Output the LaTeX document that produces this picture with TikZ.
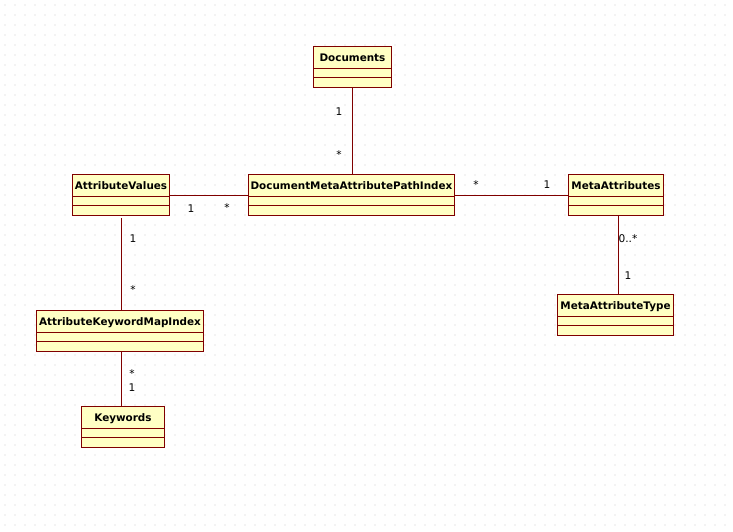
\documentclass[tikz,border=0pt]{standalone}
\usepackage{fontspec}
\setmainfont{DejaVu Sans}
\definecolor{kiiro}{HTML}{FFFFC4}
\definecolor{enji}{HTML}{800000}
\definecolor{tenten}{HTML}{CDCDCD}

\tikzset{
    umlclass/.style={draw=enji, fill=kiiro, line width=1pt, rectangle, anchor=north west,
        inner xsep=0pt, inner ysep=0pt, text height=15pt, text depth=26pt,
        font=\fontsize{10.4}{12}\selectfont\bfseries},
    assoc/.style={draw=enji, line width=1pt},
    mult/.style={anchor=base, inner sep=0pt, font=\fontsize{10.6}{12}\selectfont},
}

\begin{document}
\begin{tikzpicture}[x=1pt, y=-1pt]
    \useasboundingbox (0, 0) rectangle (733, 531);
    \fill[white] (0, 0) rectangle (733, 531);
    \foreach \x in {5, 15, ..., 725}
        \foreach \y in {5, 15, ..., 525}
            \fill[tenten] (\x, \y) circle (0.6pt);

    \node[umlclass, minimum width=78pt] (documents) at (313, 46) {Documents};
    \node[umlclass, minimum width=206pt] (pathindex) at (248, 174) {DocumentMetaAttributePathIndex};
    \node[umlclass, minimum width=97pt] (attrvalues) at (72, 174) {AttributeValues};
    \node[umlclass, minimum width=95pt] (metaattrs) at (568, 174) {MetaAttributes};
    \node[umlclass, minimum width=116pt] (metatype) at (557, 294) {MetaAttributeType};
    \node[umlclass, minimum width=167pt] (keywordmap) at (36, 310) {AttributeKeywordMapIndex};
    \node[umlclass, minimum width=83pt] (keywords) at (81, 406) {Keywords};

    % compartments
    \foreach \c in {documents, pathindex, attrvalues, metaattrs, metatype, keywordmap, keywords} {
        \draw[enji, line width=1pt] ([yshift=-22pt]\c.north west) -- ([yshift=-22pt]\c.north east);
        \draw[enji, line width=1pt] ([yshift=-31pt]\c.north west) -- ([yshift=-31pt]\c.north east);
    }

    \draw[assoc] (documents.south) -- (documents.south |- pathindex.north);
    \draw[assoc] (attrvalues) -- (pathindex);
    \draw[assoc] (pathindex) -- (metaattrs);
    \draw[assoc] ([xshift=2pt]metaattrs.south) -- ([xshift=2pt]metaattrs.south |- metatype.north);
    \draw[assoc] ([yshift=-2pt]attrvalues.south) -- (attrvalues.south |- keywordmap.north);
    \draw[assoc] ([xshift=1.5pt]keywordmap.south) -- ([xshift=1.5pt]keywordmap.south |- keywords.north);

    \node[mult] (m1) at (339, 115) {1};
    \node[mult] (m2) at (339, 158) {*};
    \node[mult] (m3) at (191, 212) {1};
    \node[mult] (m4) at (227, 211) {*};
    \node[mult] (m5) at (476, 188) {*};
    \node[mult] (m6) at (547, 188) {1};
    \node[mult] (m7) at (628, 242) {0..*};
    \node[mult] (m8) at (628, 279) {1};
    \node[mult] (m9) at (133, 242) {1};
    \node[mult] (m10) at (133, 293) {*};
    \node[mult] (m11) at (132, 377) {*};
    \node[mult] (m12) at (132, 391) {1};
\end{tikzpicture}
\end{document}
